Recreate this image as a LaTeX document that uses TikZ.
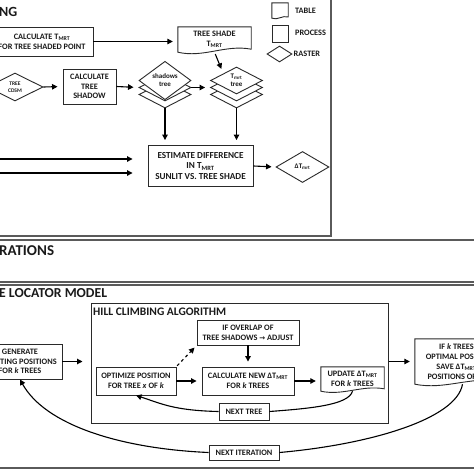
\documentclass[tikz,border=0pt]{standalone}
\usepackage{fontspec}
\setmainfont{Carlito}
\newfontfamily\dejavu{DejaVu Sans}
\usetikzlibrary{shapes.geometric,arrows.meta,calc}
\definecolor{linec}{HTML}{2A2A2A}
\definecolor{framec}{HTML}{5A5A5A}
\definecolor{textc}{HTML}{1A1A1A}
\newcommand\Tm{T\textsubscript{MRT}}
\newcommand\Tmr{T\textsubscript{mrt}}
% document (table) outline around a named node; #1 = wave scale
\newcommand\tablepath[2][1]{%
  \draw[boxline] (#2.north west) -- (#2.north east) -- ([yshift={3*#1*1pt}]#2.south east)
    .. controls ($(#2.south east)!0.35!(#2.south west)+(0,{8*#1*1pt})$)
    and ($(#2.south west)!0.35!(#2.south east)+(0,{-6*#1*1pt})$) .. (#2.south west) -- cycle;}
\begin{document}
\begin{tikzpicture}[x=1pt,y=-1pt,
  boxline/.style={draw=linec, line width=0.9pt},
  txt/.style={text=textc, font=\bfseries\fontsize{8.3}{9.8}\selectfont},
  proc/.style={boxline, fill=white, align=center, inner sep=1pt, txt},
  tbltext/.style={align=center, inner sep=1pt, txt},
  raster/.style={diamond, boxline, fill=white, inner sep=0pt, align=center, txt,
     minimum width=52pt, minimum height=27pt},
  arr/.style={draw=black, line width=1.1pt, -{Triangle[length=5.5pt,width=5.5pt]}, shorten >=5pt},
  frame/.style={draw=framec, line width=1.3pt},
  title/.style={anchor=west, inner sep=0pt, text=textc, font=\bfseries\fontsize{14}{16}\selectfont},
  legtext/.style={anchor=west, inner sep=0pt, text=textc, font=\bfseries\fontsize{8.3}{9.5}\selectfont}]
\useasboundingbox (0,0) rectangle (474,474);
\fill[white] (0,0) rectangle (474,474);

% ---------- section frames
\draw[frame] (-5,-5) rectangle (331,236);
\draw[frame] (-5,240) rectangle (480,282);
\draw[frame] (-5,285) rectangle (480,468);

% ---------- top section
\node[title] (tA) at (-1,12) {NG};
\node[proc, minimum width=102pt, minimum height=29pt] (calcT) at (42,41.5) {CALCULATE \Tm\\FOR TREE SHADED POINT};
\node[tbltext, minimum width=73pt, minimum height=25pt] (tsh) at (214.5,39.5) {TREE SHADE\\\Tm};
\tablepath{tsh}
\node[diamond, boxline, inner sep=0pt, minimum width=56pt, minimum height=28pt, align=center,
      text=textc, font=\bfseries\fontsize{5.5}{6.5}\selectfont] (cdsm) at (15,87) {TREE\\CDSM};
\node[proc, minimum width=53pt, minimum height=35pt] (calcS) at (89.5,86.5) {CALCULATE\\TREE\\SHADOW};

\node[raster] (sh3) at (165,94.5) {};
\node[raster] (sh2) at (165,87.5) {};
\node[raster, font=\bfseries\fontsize{7}{8}\selectfont] (sh1) at (165,80.5) {shadows\\tree};
\node[raster] (tm3) at (236.5,94.5) {};
\node[raster] (tm2) at (236.5,87.5) {};
\node[raster, font=\bfseries\fontsize{7}{7.5}\selectfont] (tm1) at (236.5,80.5) {\Tmr\\tree};

\node[proc, minimum width=105pt, minimum height=41pt, font=\bfseries\fontsize{9.2}{10.5}\selectfont] (est) at (200.5,166) {ESTIMATE DIFFERENCE\\IN \Tm\\SUNLIT VS. TREE SHADE};
\node[diamond, boxline, inner sep=0pt, minimum width=53pt, minimum height=31pt,
      text=textc, font=\bfseries\fontsize{7}{8}\selectfont] (dT) at (302.5,167) {ΔT\textsubscript{mrt}};

\coordinate (inA) at (-5,159);
\coordinate (inB) at (-5,173);

\draw[arr] (calcT.east) -- (calcT.east -| tsh.west);
\draw[arr, shorten <=2pt] (tsh.south) -- (tm1.north west);
\draw[arr] (cdsm.east) -- (calcS.west);
\draw[arr] (calcS.east) -- (sh2.west);
\draw[arr] (sh2.east) -- (tm2.west);
\draw[arr] (sh3.south) -- (sh3.south |- est.north);
\draw[arr] (tm3.south) -- (tm3.south |- est.north);
\draw[arr, shorten >=15pt] (inA) -- (inA -| est.west);
\draw[arr, shorten >=15pt] (inB) -- (inB -| est.west);
\draw[arr, shorten >=4pt] (est.east) -- (dT.west);

% legend
\node[tbltext, minimum width=16pt, minimum height=15pt] (lgT) at (280,10.5) {};
\tablepath[0.4]{lgT}
\node[proc, minimum width=16pt, minimum height=17pt] (lgP) at (280,33.5) {};
\node[diamond, boxline, inner sep=0pt, minimum width=25pt, minimum height=16pt] (lgR) at (279.5,54) {};
\node[legtext] (lgTt) at (295,11) {TABLE};
\node[legtext] (lgPt) at (295,32.5) {PROCESS};
\node[legtext] (lgRt) at (293.5,53.5) {RASTER};

% ---------- middle section
\node[title, font=\bfseries\fontsize{15}{17}\selectfont] (tB) at (-1,251) {RATIONS};

% ---------- bottom section
\node[title, font=\bfseries\fontsize{13.7}{15}\selectfont] (tC) at (-1,293) {E LOCATOR MODEL};
\node[draw=linec, line width=1pt, minimum width=297pt, minimum height=120pt, inner sep=0pt] (hill) at (239.5,363) {};
\node[title, font=\bfseries\fontsize{11.5}{13}\selectfont] (hillT) at (93,311.5) {HILL CLIMBING ALGORITHM};

\node[proc, minimum width=84pt, minimum height=35pt] (gen) at (20,361.5) {GENERATE\\STARTING POSITIONS\\FOR \textit{k} TREES};
\node[proc, minimum width=102pt, minimum height=25pt] (ov) at (248,332.5) {IF OVERLAP OF\\TREE SHADOWS {\dejavu\bfseries\fontsize{7}{8}\selectfont →} ADJUST};
\node[proc, minimum width=80pt, minimum height=28pt] (opt) at (136,381) {OPTIMIZE POSITION\\FOR TREE \textit{x} OF \textit{k}};
\node[proc, minimum width=92pt, minimum height=28pt] (calcN) at (248,381) {CALCULATE NEW ΔT\textsubscript{MRT}\\FOR \textit{k} TREES};
\node[tbltext, minimum width=63pt, minimum height=24pt] (upd) at (352.5,379) {UPDATE ΔT\textsubscript{MRT}\\FOR \textit{k} TREES};
\tablepath[0.8]{upd}
\node[proc, minimum width=50pt, minimum height=17pt] (nt) at (244,411.5) {NEXT TREE};
\node[tbltext, minimum width=85pt, minimum height=45pt] (iftab) at (457.5,361.5) {};
\tablepath{iftab}
\node[tbltext, align=right, anchor=east] (iftxt) at (477.5,361.5) {IF \textit{k} TREES-\\OPTIMAL POS-\\SAVE ΔT\textsubscript{MRT}\\POSITIONS OF};
\node[proc, minimum width=70pt, minimum height=15pt] (ni) at (244,452.5) {NEXT ITERATION};

\draw[arr, shorten >=8pt] (gen.east) -- (gen.east -| hill.west);
\draw[arr, dashed, shorten >=3pt, shorten <=1pt] (opt.north east) -- (ov.south west);
\draw[arr] (opt.east) -- (calcN.west);
\draw[arr] (ov.south) -- (calcN.north);
\draw[arr] (calcN.east) -- (calcN.east -| upd.west);
\draw[arr] (hill.east |- iftab) -- (iftab.west);
\draw[line width=1.1pt] (upd.south) .. controls +(-4,14) and +(40,-3) .. (nt.east);
\draw[arr, shorten >=0pt] (nt.west) .. controls +(-45,-1) and +(25,8) .. (opt.south);
\draw[line width=1.1pt] ([xshift=5pt]iftab.south) .. controls +(-6,35) and +(90,-8) .. (ni.east);
\draw[arr, shorten >=0pt] (ni.west) .. controls +(-90,-4) and +(25,45) .. (gen.south);
\end{tikzpicture}
\end{document}
